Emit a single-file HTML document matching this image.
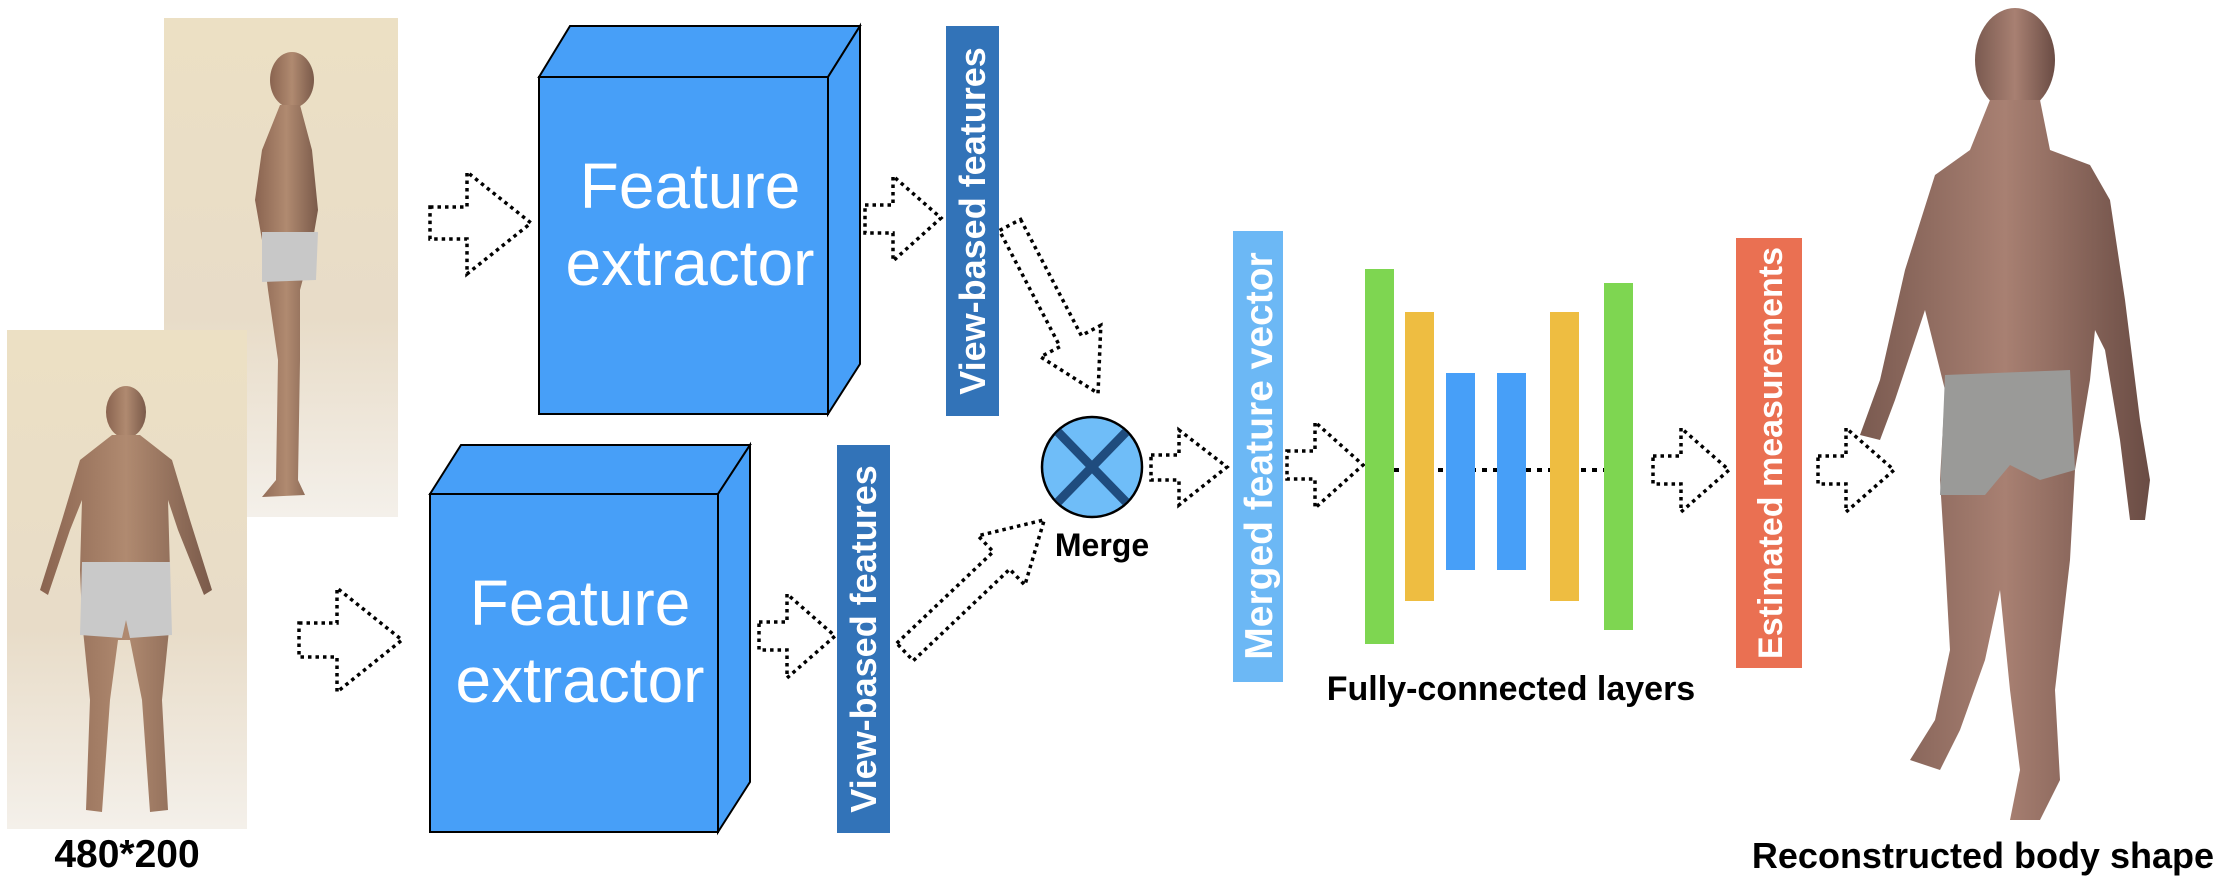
<!DOCTYPE html>
<html><head><meta charset="utf-8"><style>
html,body{margin:0;padding:0;background:#fff;}
body{width:2220px;height:877px;overflow:hidden;position:relative;font-family:"Liberation Sans",sans-serif;}
svg{position:absolute;left:0;top:0;}
</style></head><body>
<svg width="2220" height="877" viewBox="0 0 2220 877" xmlns="http://www.w3.org/2000/svg">
<defs>
<linearGradient id="bg1" x1="0" y1="0" x2="0" y2="1">
<stop offset="0" stop-color="#ece0c4"/><stop offset="0.6" stop-color="#e8dcc8"/><stop offset="1" stop-color="#f4f0ea"/></linearGradient>
<linearGradient id="skin" x1="0" y1="0" x2="1" y2="0">
<stop offset="0" stop-color="#8a6450"/><stop offset="0.5" stop-color="#b08a70"/><stop offset="1" stop-color="#7a5a4a"/></linearGradient>
<linearGradient id="skin2" x1="0" y1="0" x2="1" y2="0">
<stop offset="0" stop-color="#7a5a50"/><stop offset="0.5" stop-color="#a88072"/><stop offset="1" stop-color="#6a4c44"/></linearGradient>
</defs>

<rect x="164" y="18" width="234" height="499" fill="url(#bg1)"/>
<g fill="url(#skin)">
<ellipse cx="292" cy="80" rx="22" ry="28"/>
<path d="M280 105 L300 105 L312 150 L318 210 L312 245 L300 290 L300 360 L298 480 L305 495 L262 497 L276 480 L278 360 L268 290 L262 240 L255 200 L262 150 Z"/>
</g>
<path d="M262 232 L318 232 L316 280 L262 282 Z" fill="#c8c8c8"/>

<rect x="7" y="330" width="240" height="499" fill="url(#bg1)"/>
<g fill="url(#skin)">
<ellipse cx="126" cy="412" rx="20" ry="26"/>
<path d="M112 435 L140 435 L172 460 L190 520 L212 590 L204 595 L178 530 L168 500 L170 570 L170 620 L162 700 L168 810 L150 812 L142 700 L130 640 L118 640 L110 700 L102 812 L86 810 L90 700 L82 620 L80 570 L82 500 L70 530 L48 595 L40 590 L62 520 L80 460 Z"/>
</g>
<path d="M82 562 L170 562 L172 635 L130 638 L126 620 L122 638 L80 635 Z" fill="#c9c9c9"/>

<text x="127" y="867" font-size="39" font-weight="bold" text-anchor="middle" fill="#000">480*200</text>

<polygon points="539,77 570,26 860,26 828,77" fill="#479ff8" stroke="#000" stroke-width="2"/>
<polygon points="828,77 860,26 860,364 828,414" fill="#479ff8" stroke="#000" stroke-width="2"/>
<rect x="539" y="77" width="289" height="337" fill="#479ff8" stroke="#000" stroke-width="2"/>
<text x="690" y="208" font-size="64" fill="#fff" text-anchor="middle">Feature</text>
<text x="690" y="285" font-size="64" fill="#fff" text-anchor="middle">extractor</text>

<polygon points="430,494 461,445 750,445 718,494" fill="#479ff8" stroke="#000" stroke-width="2"/>
<polygon points="718,494 750,445 750,782 718,832" fill="#479ff8" stroke="#000" stroke-width="2"/>
<rect x="430" y="494" width="288" height="338" fill="#479ff8" stroke="#000" stroke-width="2"/>
<text x="580" y="625" font-size="64" fill="#fff" text-anchor="middle">Feature</text>
<text x="580" y="702" font-size="64" fill="#fff" text-anchor="middle">extractor</text>

<rect x="946" y="26" width="53" height="390" fill="#3273b8"/>
<text transform="translate(985,221) rotate(-90)" font-size="36" font-weight="bold" fill="#fff" text-anchor="middle">View-based features</text>
<rect x="837" y="445" width="53" height="388" fill="#3273b8"/>
<text transform="translate(876,639) rotate(-90)" font-size="36" font-weight="bold" fill="#fff" text-anchor="middle">View-based features</text>

<g fill="none" stroke="#000" stroke-width="3.5" stroke-dasharray="3.5 4">
<polygon points="430,207 467,207 467,172 531,223 467,274 467,239 430,239"/>
<polygon points="299,623 337,623 337,588 402,640 337,692 337,657 299,657"/>
<polygon points="865,205 893,205 893,176 941,218 893,261 893,233 865,233"/>
<polygon points="759,622 787,622 787,594 835,636 787,678 787,650 759,650"/>
<polygon points="1151,455 1179,455 1179,430 1227,467 1179,505 1179,480 1151,480"/>
<polygon points="1287,451 1315,451 1315,422 1363,465 1315,508 1315,479 1287,479"/>
<polygon points="1653,456 1681,456 1681,428 1729,470 1681,512 1681,484 1653,484"/>
<polygon points="1818,456 1846,456 1846,428 1894,470 1846,512 1846,484 1818,484"/>
<polygon transform="translate(1010,225) rotate(62.4)" points="0,-12 131,-12 131,-34 190,0 131,34 131,12 0,12"/>
<polygon transform="translate(905,652) rotate(-43.5)" points="0,-12 133,-12 133,-34 192,0 133,34 133,12 0,12"/>
</g>

<circle cx="1092" cy="467" r="50" fill="#6fbdf8" stroke="#000" stroke-width="2.5"/>
<g stroke="#1f4c7e" stroke-width="9"><line x1="1058" y1="432" x2="1126" y2="502"/><line x1="1126" y1="432" x2="1058" y2="502"/></g>
<text x="1102" y="556" font-size="32" font-weight="bold" text-anchor="middle">Merge</text>

<rect x="1233" y="231" width="50" height="451" fill="#6cb8f5"/>
<text transform="translate(1272,456) rotate(-90)" font-size="39" font-weight="bold" fill="#fff" text-anchor="middle">Merged feature vector</text>

<line x1="1394" y1="470" x2="1604" y2="470" stroke="#000" stroke-width="4" stroke-dasharray="5 6"/>
<rect x="1365" y="269" width="29" height="375" fill="#7ed651"/>
<rect x="1405" y="312" width="29" height="289" fill="#eebd41"/>
<rect x="1446" y="373" width="29" height="197" fill="#479ff8"/>
<rect x="1497" y="373" width="29" height="197" fill="#479ff8"/>
<rect x="1550" y="312" width="29" height="289" fill="#eebd41"/>
<rect x="1604" y="283" width="29" height="347" fill="#7ed651"/>
<text x="1511" y="700" font-size="34" font-weight="bold" text-anchor="middle">Fully-connected layers</text>

<rect x="1736" y="238" width="66" height="430" fill="#ea7052"/>
<text transform="translate(1782,453) rotate(-90)" font-size="34" font-weight="bold" fill="#fff" text-anchor="middle">Estimated measurements</text>

<g fill="url(#skin2)">
<ellipse cx="2015" cy="60" rx="40" ry="52"/>
<path d="M1990 100 L2040 100 L2050 150 L2090 165 L2110 200 L2125 300 L2140 420 L2150 480 L2145 520 L2130 520 L2120 440 L2105 350 L2095 330 L2090 380 L2075 470 L2070 560 L2055 690 L2060 780 L2040 820 L2010 820 L2020 770 L2010 690 L2000 590 L1985 660 L1960 730 L1940 770 L1910 760 L1935 720 L1950 650 L1945 560 L1940 480 L1945 390 L1925 310 L1895 400 L1880 440 L1860 435 L1880 380 L1905 270 L1935 175 L1970 150 Z"/>
</g>
<path d="M1945 375 L2070 370 L2075 470 L2040 480 L2010 465 L1985 495 L1940 495 Z" fill="#9a9a98"/>
<text x="2214" y="868" font-size="36" font-weight="bold" text-anchor="end">Reconstructed body shape</text>
</svg>
</body></html>
